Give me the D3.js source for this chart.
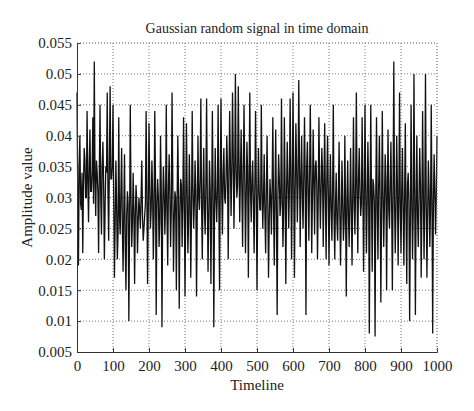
<!DOCTYPE html>
<html>
<head>
<meta charset="utf-8">
<script src="https://cdn.jsdelivr.net/npm/d3@7"></script>
<style>
body { margin: 0; background: #fff; }
text { font-family: "Liberation Serif", "DejaVu Serif", serif; fill: #222; }
</style>
</head>
<body>
<svg id="chart" width="474" height="411"></svg>
<script>
// swing values at t = 0, 4, 8, ... and core-band values at t = 2, 6, 10, ...
let step = 4;
let amplitude = [
    0.047,0.019,0.040,0.028,0.021,0.038,0.030,0.044,0.026,0.041,0.031,0.043,0.052,0.027,0.034,0.021,0.045,0.024,0.039,0.020,0.035,0.047,0.023,0.048,0.033,
    0.045,0.017,0.036,0.020,0.043,0.024,0.038,0.018,0.037,0.015,0.031,0.010,0.045,0.022,0.034,0.016,0.032,0.021,0.030,0.025,0.036,0.023,0.027,0.044,0.016,
    0.042,0.025,0.036,0.020,0.044,0.011,0.033,0.022,0.040,0.009,0.035,0.024,0.045,0.019,0.037,0.022,0.047,0.018,0.031,0.015,0.040,0.012,0.033,0.022,0.043,
    0.014,0.042,0.021,0.037,0.017,0.044,0.025,0.036,0.014,0.040,0.028,0.046,0.020,0.038,0.024,0.046,0.018,0.036,0.016,0.044,0.009,0.038,0.026,0.045,0.015,
    0.046,0.024,0.038,0.029,0.040,0.020,0.044,0.027,0.047,0.025,0.050,0.030,0.048,0.026,0.041,0.022,0.045,0.021,0.039,0.017,0.047,0.026,0.036,0.021,0.044,
    0.015,0.038,0.028,0.045,0.025,0.037,0.021,0.040,0.017,0.033,0.024,0.043,0.019,0.041,0.011,0.037,0.027,0.046,0.022,0.043,0.016,0.039,0.025,0.046,0.020,
    0.047,0.017,0.042,0.026,0.049,0.022,0.040,0.025,0.043,0.011,0.039,0.023,0.045,0.021,0.041,0.024,0.036,0.020,0.043,0.025,0.038,0.022,0.042,0.020,0.040,
    0.019,0.037,0.023,0.045,0.020,0.034,0.023,0.039,0.019,0.036,0.023,0.040,0.014,0.036,0.022,0.038,0.019,0.043,0.024,0.047,0.021,0.038,0.027,0.043,0.018,
    0.045,0.021,0.039,0.008,0.045,0.018,0.032,0.0075,0.043,0.020,0.040,0.013,0.044,0.022,0.037,0.015,0.041,0.025,0.039,0.015,0.052,0.021,0.040,0.019,0.047,
    0.021,0.038,0.019,0.042,0.016,0.034,0.010,0.045,0.020,0.050,0.011,0.040,0.022,0.038,0.017,0.044,0.020,0.050,0.017,0.036,0.022,0.045,0.008,0.037,0.024,
    0.040
];
let core = [
    0.031,0.035,0.029,0.034,0.032,0.036,0.030,0.033,0.035,0.031,0.034,0.029,0.033,0.036,0.031,0.034,0.030,0.035,0.032,0.028,0.034,0.031,0.036,0.033,0.035,
    0.030,0.026,0.029,0.024,0.027,0.031,0.025,0.028,0.022,0.027,0.029,0.025,0.030,0.026,0.028,0.027,0.029,0.026,0.028,0.030,0.027,0.025,0.029,0.031,0.028,
    0.032,0.028,0.031,0.027,0.033,0.029,0.030,0.026,0.032,0.028,0.031,0.029,0.027,0.032,0.030,0.028,0.033,0.026,0.030,0.029,0.031,0.027,0.032,0.029,0.030,
    0.028,0.031,0.026,0.030,0.027,0.032,0.029,0.031,0.027,0.030,0.033,0.029,0.031,0.028,0.032,0.030,0.027,0.031,0.029,0.032,0.028,0.030,0.031,0.029,0.033,
    0.031,0.034,0.030,0.033,0.035,0.032,0.036,0.034,0.037,0.033,0.035,0.032,0.036,0.034,0.031,0.035,0.033,0.030,0.034,0.032,0.031,0.033,0.029,0.032,0.031,
    0.029,0.031,0.028,0.032,0.030,0.027,0.031,0.029,0.026,0.030,0.032,0.028,0.031,0.027,0.030,0.033,0.029,0.031,0.028,0.032,0.030,0.033,0.031,0.034,0.032,
    0.034,0.031,0.035,0.032,0.036,0.033,0.030,0.034,0.032,0.035,0.031,0.033,0.034,0.030,0.033,0.035,0.032,0.029,0.033,0.031,0.034,0.032,0.030,0.033,0.031,
    0.030,0.028,0.031,0.027,0.029,0.026,0.030,0.028,0.027,0.029,0.026,0.028,0.030,0.027,0.029,0.028,0.031,0.029,0.032,0.030,0.033,0.031,0.029,0.032,0.030,
    0.031,0.029,0.032,0.028,0.030,0.033,0.029,0.031,0.028,0.032,0.030,0.027,0.031,0.029,0.033,0.030,0.028,0.032,0.029,0.031,0.030,0.028,0.032,0.030,0.029,
    0.031,0.028,0.030,0.027,0.032,0.029,0.026,0.030,0.028,0.031,0.029,0.027,0.030,0.032,0.028,0.031,0.029,0.030,0.027,0.031,0.028,0.030,0.029,0.031,0.030
];
let xTicks = [0, 100, 200, 300, 400, 500, 600, 700, 800, 900, 1000];
let yTicks = [0.005, 0.01, 0.015, 0.02, 0.025, 0.03, 0.035, 0.04, 0.045, 0.05, 0.055];

// merge both lists into one time-ordered series
let series = [];
amplitude.forEach((v, i) => {
    series.push({t: i * step, v: v});
    if (i < core.length) series.push({t: i * step + step / 2, v: core[i]});
});

let svg = d3.select("#chart");
let mLeft = 77, mRight = 437, mTop = 43, mBottom = 352;

let x = d3.scaleLinear().domain([0, 1000]).range([mLeft, mRight]);
let y = d3.scaleLinear().domain([0.005, 0.055]).range([mBottom, mTop]);

// dotted grid
svg.append("g").selectAll("line").data(xTicks.slice(1)).join("line")
    .attr("x1", d => x(d)).attr("x2", d => x(d))
    .attr("y1", mTop).attr("y2", mBottom)
    .attr("stroke", "#777").attr("stroke-dasharray", "1,2");
svg.append("g").selectAll("line").data(yTicks.slice(1)).join("line")
    .attr("x1", mLeft).attr("x2", mRight)
    .attr("y1", d => y(d)).attr("y2", d => y(d))
    .attr("stroke", "#777").attr("stroke-dasharray", "1,2");

// signal
let line = d3.line().x(d => x(d.t)).y(d => y(d.v));
svg.append("path").datum(series)
    .attr("d", line)
    .attr("fill", "none")
    .attr("stroke", "#111")
    .attr("stroke-width", 1.3);

// axes
let xAxis = svg.append("g").attr("transform", `translate(0,${mBottom})`)
    .call(d3.axisBottom(x).tickValues(xTicks).tickSize(-4).tickPadding(8).tickFormat(d3.format("d")));
let yAxis = svg.append("g").attr("transform", `translate(${mLeft},0)`)
    .call(d3.axisLeft(y).tickValues(yTicks).tickSize(-4).tickPadding(5).tickFormat(d => String(+d.toFixed(3))));
[xAxis, yAxis].forEach(a => {
    a.selectAll("text").style("font-size", "15px").style("font-family", "Liberation Serif, serif");
    a.selectAll("path,line").attr("stroke", "#333");
});
// box top/right
svg.append("path")
    .attr("d", `M${mLeft},${mTop}H${mRight}V${mBottom}`)
    .attr("fill", "none").attr("stroke", "#999").attr("stroke-dasharray", "1,2");

svg.append("text").attr("x", (mLeft + mRight) / 2).attr("y", 33)
    .attr("text-anchor", "middle").style("font-size", "14px")
    .text("Gaussian random signal in time domain");
svg.append("text").attr("x", (mLeft + mRight) / 2).attr("y", 390)
    .attr("text-anchor", "middle").style("font-size", "15px")
    .text("Timeline");
svg.append("text").attr("transform", `translate(32,${(mTop + mBottom) / 2}) rotate(-90)`)
    .attr("text-anchor", "middle").style("font-size", "15px")
    .text("Amplitude value");
</script>
</body>
</html>
